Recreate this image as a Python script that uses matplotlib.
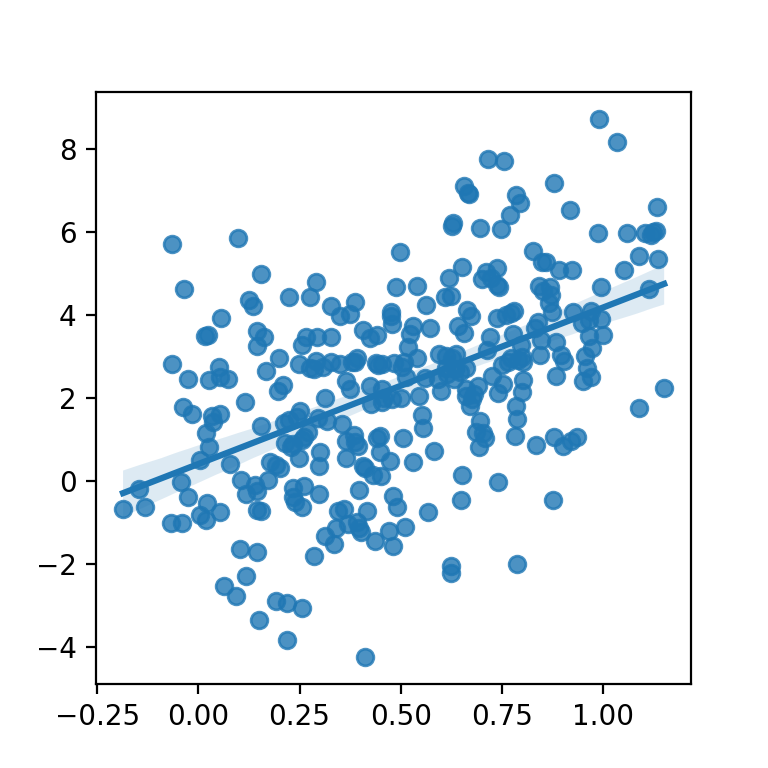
import matplotlib
matplotlib.use("Agg")
import matplotlib.pyplot as plt
import seaborn as sns
import numpy as np

pts = [
(-0.186,-0.66),(-0.146,-0.18),(-0.131,-0.61),(-0.064,5.72),(-0.064,2.83),(-0.067,-1.0),(-0.044,-0.01),(-0.04,-1.0),
(-0.035,4.63),(-0.037,1.79),(-0.025,2.47),(-0.025,-0.37),(-0.015,1.62),(0.005,0.52),(0.005,-0.80),(0.017,3.50),
(0.025,3.53),(0.02,1.17),(0.022,-0.51),(0.02,-0.92),(0.027,2.44),(0.027,0.83),(0.035,1.58),(0.037,1.43),
(0.05,2.76),(0.054,2.52),(0.054,1.63),(0.057,3.94),(0.054,-0.75),(0.064,-2.51),(0.074,2.47),(0.079,0.42),
(0.092,-2.77),(0.099,5.86),(0.104,-1.64),(0.106,0.02),(0.116,1.92),(0.119,-2.29),(0.119,-0.30),(0.124,4.37),
(0.134,4.22),(0.144,3.26),(0.141,-0.08),(0.144,-0.23),(0.146,3.62),(0.144,-0.68),(0.144,-1.69),(0.151,-3.35),
(0.154,-0.71),(0.156,4.99),(0.154,1.34),(0.163,3.48),(0.166,2.66),(0.171,0.02),(0.178,0.47),(0.191,0.40),
(0.191,-2.87),(0.196,2.18),(0.2,2.97),(0.203,0.33),(0.208,2.32),(0.211,1.41),(0.215,0.93),(0.218,-2.94),
(0.218,-3.83),(0.225,4.44),(0.225,1.48),(0.23,0.83),(0.233,0.91),(0.235,-0.37),(0.235,-0.15),(0.238,-0.49),
(0.245,1.55),(0.248,2.83),(0.25,1.70),(0.248,0.57),(0.255,3.29),(0.257,-3.04),(0.255,-0.63),(0.257,1.00),
(0.26,1.07),(0.26,-0.11),(0.267,3.48),(0.27,1.19),(0.275,4.44),(0.275,2.73),(0.285,-1.79),(0.285,2.71),
(0.29,4.80),(0.29,2.90),(0.292,3.48),(0.297,-0.30),(0.295,1.53),(0.297,0.38),(0.3,0.71),(0.307,2.76),
(0.312,-1.31),(0.312,2.01),(0.317,1.46),(0.327,4.22),(0.327,2.88),(0.329,3.48),(0.334,-1.50),(0.339,-1.12),
(0.344,-0.71),(0.351,2.83),(0.351,3.98),(0.356,1.39),(0.359,-0.66),(0.364,0.98),(0.366,0.57),(0.366,2.42),
(0.369,-1.02),(0.374,2.23),(0.374,4.03),(0.379,2.88),(0.386,0.95),(0.384,1.12),(0.388,4.32),(0.388,2.88),
(0.391,-0.97),(0.391,2.97),(0.394,0.86),(0.396,-0.20),(0.396,-1.12),(0.403,-1.21),(0.406,0.38),(0.408,3.65),
(0.413,-4.22),(0.413,0.33),(0.416,-0.71),(0.423,3.45),(0.423,2.30),(0.426,1.87),(0.431,0.16),(0.436,-1.43),
(0.438,2.85),(0.441,1.05),(0.441,3.53),(0.443,2.80),(0.448,1.10),(0.448,0.71),(0.451,0.14),(0.453,1.92),
(0.453,2.23),(0.455,2.83),(0.46,2.01),(0.473,0.50),(0.47,-1.19),(0.475,3.98),(0.475,4.08),(0.478,1.99),
(0.478,3.79),(0.480,-1.55),(0.480,-0.35),(0.483,2.85),(0.488,4.68),(0.49,-0.61),(0.498,5.52),(0.5,2.01),
(0.503,2.76),(0.505,1.05),(0.508,2.88),(0.51,-1.09),(0.512,2.52),(0.517,3.24),(0.522,3.55),(0.53,3.75),
(0.53,0.47),(0.54,4.70),(0.54,2.97),(0.545,2.06),(0.552,1.60),(0.555,1.29),(0.56,2.49),(0.562,4.25),
(0.567,-0.73),(0.572,3.70),(0.582,0.74),(0.592,2.47),(0.594,3.07),(0.599,2.18),(0.609,4.44),(0.611,2.73),
(0.611,3.02),(0.614,2.59),(0.619,4.90),(0.624,4.46),(0.624,-2.20),(0.624,-2.03),(0.626,2.97),(0.626,6.15),
(0.629,6.22),(0.631,2.47),(0.634,2.71),(0.636,3.07),(0.641,3.75),(0.646,2.64),(0.649,-0.44),(0.651,0.16),
(0.651,5.16),(0.656,3.58),(0.656,7.11),(0.661,2.23),(0.661,2.06),(0.661,2.73),(0.663,4.13),(0.666,6.94),
(0.668,6.92),(0.671,1.82),(0.673,3.98),(0.676,1.99),(0.681,2.11),(0.686,1.19),(0.69,2.30),(0.693,0.83),
(0.696,1.46),(0.696,6.10),(0.701,4.87),(0.703,1.17),(0.708,1.05),(0.71,5.04),(0.713,3.17),(0.715,7.76),
(0.72,3.48),(0.723,4.90),(0.725,2.54),(0.738,5.14),(0.738,3.94),(0.738,4.73),(0.74,-0.01),(0.74,2.13),
(0.743,4.68),(0.748,6.08),(0.75,2.80),(0.752,2.35),(0.755,7.71),(0.76,4.01),(0.765,2.88),(0.77,6.41),
(0.772,2.97),(0.772,4.05),(0.777,3.55),(0.78,4.10),(0.782,1.10),(0.785,1.82),(0.785,6.89),(0.787,1.51),
(0.787,-2.00),(0.79,2.93),(0.795,6.70),(0.797,3.29),(0.80,2.16),(0.80,3.00),(0.802,2.44),(0.802,2.88),
(0.827,5.55),(0.832,3.70),(0.834,0.88),(0.839,3.84),(0.842,4.70),(0.844,3.05),(0.847,3.41),(0.849,5.28),
(0.851,4.58),(0.859,5.28),(0.867,4.30),(0.869,4.68),(0.871,4.49),(0.874,4.08),(0.876,-0.44),(0.879,7.18),
(0.879,1.07),(0.884,2.54),(0.884,3.36),(0.891,5.09),(0.896,3.05),(0.901,0.86),(0.904,2.90),(0.918,6.53),
(0.921,0.98),(0.926,4.08),(0.923,5.09),(0.936,1.07),(0.948,3.82),(0.951,2.42),(0.955,3.02),(0.96,2.73),
(0.966,3.50),(0.966,3.89),(0.97,4.10),(0.97,2.52),(0.973,3.21),(0.988,5.98),(0.991,8.72),(0.995,4.68),
(0.995,3.91),(1.0,3.53),(1.035,8.17),(1.052,5.09),(1.06,5.98),(1.089,1.77),(1.089,5.43),(1.104,5.98),
(1.114,4.63),(1.119,5.93),(1.124,6.00),(1.131,6.03),(1.134,6.61),(1.136,5.35),(1.151,2.25),
]
x = [p[0] for p in pts]
y = [p[1] for p in pts]

fig, ax = plt.subplots(figsize=(3.84, 3.84), dpi=200)
sns.regplot(x=np.array(x), y=np.array(y), ax=ax, seed=0)
ax.set_yticks([-4, -2, 0, 2, 4, 6, 8])
fig.savefig("out.png")
